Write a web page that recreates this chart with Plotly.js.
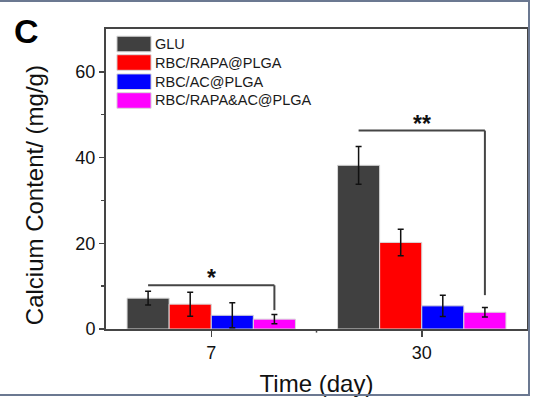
<!DOCTYPE html>
<html>
<head>
<meta charset="utf-8">
<script src="https://cdn.plot.ly/plotly-3.0.1.min.js"></script>
<style>
html,body{margin:0;padding:0;background:#fff;}
#wrap{position:relative;width:533px;height:398px;overflow:hidden;}
#plot{position:absolute;left:0;top:0;width:533px;height:398px;}
#frame{position:absolute;left:-3px;top:0;width:533px;height:396px;border-top:2px solid #6b7891;border-right:2px solid #6b7891;border-bottom:2px solid #6b7891;box-sizing:border-box;pointer-events:none;}
</style>
</head>
<body>
<div id="wrap"><div id="plot"></div><div id="frame"></div></div>
<script>
// ---- data ----
const categories = ['7', '30'];
const seriesNames = ['GLU', 'RBC/RAPA@PLGA', 'RBC/AC@PLGA', 'RBC/RAPA&AC@PLGA'];
const seriesColors = ['#404040', '#ff0000', '#0000ff', '#ff00ff'];
const gluValues = [7.2, 38.2];
const gluErrors = [1.6, 4.4];
const rapaValues = [5.8, 20.2];
const rapaErrors = [2.8, 3.1];
const acValues = [3.2, 5.4];
const acErrors = [2.9, 2.5];
const rapaAcValues = [2.3, 3.9];
const rapaAcErrors = [1.1, 1.1];
const sigTop = [10.2, 46.3];
const sigBottom = [4.4, 7.9];
const sigLabels = ['*', '**'];
const yTickVals = [0, 20, 40, 60];

const values = [gluValues, rapaValues, acValues, rapaAcValues];
const errors = [gluErrors, rapaErrors, acErrors, rapaAcErrors];

const FONT = 'Liberation Sans, Arial, sans-serif';
const bargap = 0.2;
const nSeries = seriesNames.length;
const barW = (1 - bargap) / nSeries;
function offsetOf(i) { return -(1 - bargap) / 2 + barW * (i + 0.5); }

const traces = seriesNames.map((name, i) => ({
  type: 'bar',
  name: name,
  x: categories,
  y: values[i],
  marker: {color: seriesColors[i], line: {color: '#d8d8d8', width: 1}},
  error_y: {type: 'data', array: errors[i], visible: true, color: '#111', thickness: 1.5, width: 3},
  showlegend: false,
  hoverinfo: 'skip'
}));

const shapes = [];
const annotations = [];
const lineStyle = {color: '#454545', width: 2};
// significance brackets
categories.forEach((c, k) => {
  const x0 = k + offsetOf(0);
  const x1 = k + offsetOf(nSeries - 1);
  shapes.push({type: 'line', xref: 'x', yref: 'y', x0: x0, x1: x1, y0: sigTop[k], y1: sigTop[k], line: lineStyle});
  shapes.push({type: 'line', xref: 'x', yref: 'y', x0: x1, x1: x1, y0: sigTop[k], y1: sigBottom[k], line: lineStyle});
  annotations.push({xref: 'x', yref: 'y', x: k, y: sigTop[k], text: '<b>' + sigLabels[k] + '</b>', showarrow: false,
    yanchor: 'bottom', yshift: -8, font: {family: FONT, size: 23, color: '#111'}});
});
// mid tick between categories
shapes.push({type: 'line', xref: 'x', yref: 'paper', x0: 0.5, x1: 0.5, y0: 0, y1: -0.012, line: {color: '#454545', width: 1.5}});
// legend (drawn)
const legX0 = 0.026, legX1 = 0.107, legY = [0.95, 0.8883, 0.8243, 0.7617], legH = 0.052;
seriesNames.forEach((name, i) => {
  shapes.push({type: 'rect', xref: 'paper', yref: 'paper', x0: legX0, x1: legX1,
    y0: legY[i] - legH / 2, y1: legY[i] + legH / 2, fillcolor: seriesColors[i], line: {color: '#d8d8d8', width: 1}});
  annotations.push({xref: 'paper', yref: 'paper', x: legX1 + 0.004, y: legY[i], xanchor: 'left', yanchor: 'middle',
    text: name, showarrow: false, font: {family: FONT, size: 14.5, color: '#1a1a1a'}});
});
// panel letter
annotations.push({xref: 'paper', yref: 'paper', x: -0.19, y: 0.993, xanchor: 'center', yanchor: 'middle',
  text: '<b>C</b>', showarrow: false, font: {family: FONT, size: 34, color: '#000'}});
// y title
annotations.push({xref: 'paper', yref: 'paper', x: -0.168, y: 0.447, xanchor: 'center', yanchor: 'middle', textangle: -90,
  text: 'Calcium Content/ (mg/g)', showarrow: false, font: {family: FONT, size: 24, color: '#111'}});

const layout = {
  width: 533, height: 398,
  margin: {l: 106, r: 6, t: 29, b: 69},
  paper_bgcolor: '#fff', plot_bgcolor: '#fff',
  barmode: 'group', bargap: bargap, bargroupgap: 0,
  font: {family: FONT, color: '#111'},
  xaxis: {
    type: 'category', range: [-0.5, 1.5],
    showline: true, mirror: true, linecolor: '#454545', linewidth: 2,
    ticks: 'outside', ticklen: 6, tickwidth: 1.5, tickcolor: '#454545',
    showgrid: false, zeroline: false,
    tickfont: {family: FONT, size: 18, color: '#111'},
    title: {text: 'Time (day)', font: {family: FONT, size: 24, color: '#111'}, standoff: 14}
  },
  yaxis: {
    range: [0, 70],
    tickvals: yTickVals, ticktext: yTickVals.map(String),
    showline: true, mirror: true, linecolor: '#454545', linewidth: 2,
    ticks: 'outside', ticklen: 5, tickwidth: 1.5, tickcolor: '#454545',
    minor: {tickvals: [10, 30, 50], ticks: 'outside', ticklen: 3, tickwidth: 1.5, tickcolor: '#454545', showgrid: false},
    showgrid: false, zeroline: false,
    tickfont: {family: FONT, size: 18, color: '#111'}
  },
  shapes: shapes,
  annotations: annotations
};

Plotly.newPlot('plot', traces, layout, {displayModeBar: false, staticPlot: true});
</script>
</body>
</html>
